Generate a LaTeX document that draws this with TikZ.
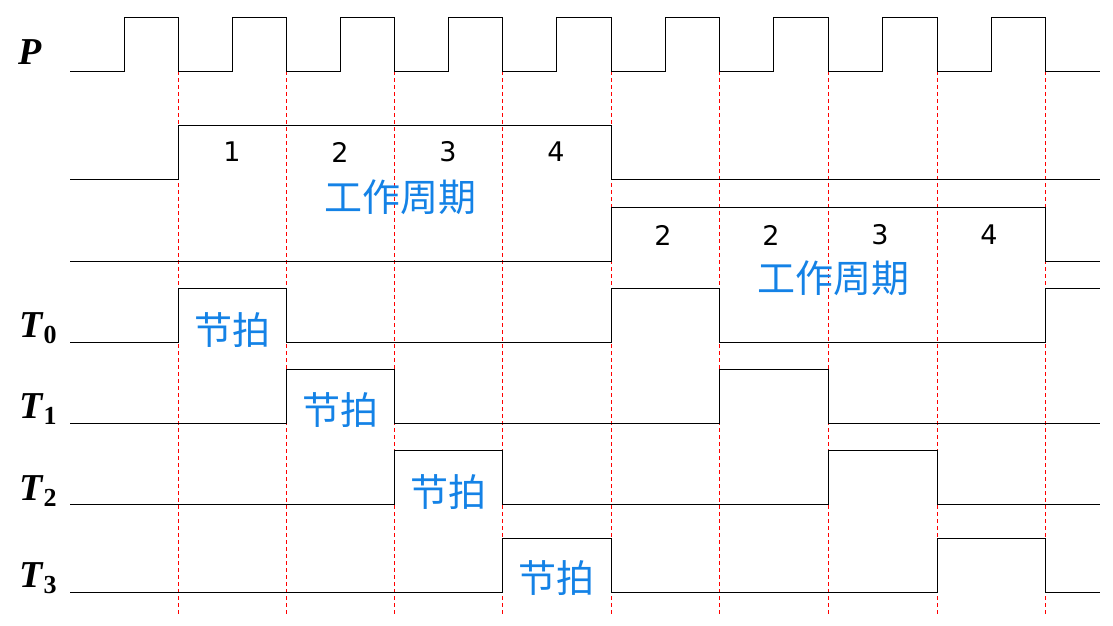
\documentclass[tikz,border=0pt]{standalone}
\usepackage{fontspec}
\setmainfont{Liberation Serif}
\newfontfamily\cjk{Noto Sans CJK SC}
\newfontfamily\numf{DejaVu Sans}
\definecolor{lblue}{RGB}{20,130,230}
\newcommand{\tsig}[1]{T\kern1pt\raisebox{-6pt}{\upshape\fontsize{26}{28}\selectfont #1}}
\begin{document}
\begin{tikzpicture}[x=1pt,y=-1pt]
\tikzset{sig/.style={line width=1pt},
 grid/.style={red,dash pattern=on 4pt off 3pt,line width=0.8pt},
 cn/.style={font=\cjk\fontsize{38}{40}\selectfont,text=lblue},
 num/.style={font=\numf\fontsize{27}{29}\selectfont},
 nm/.style={font=\bfseries\itshape\fontsize{38}{40}\selectfont}}
\useasboundingbox (0,0) rectangle (1113,625);
\foreach \x [count=\i] in {178,286,394,502,611,719,828,937,1045}
  \draw[grid] (\x,71) -- (\x,615);
% P
\draw[sig] (70,71) -- (124,71) -- (124,17) -- (178,17) -- (178,71) -- (232,71) -- (232,17) -- (286,17) -- (286,71) -- (340,71) -- (340,17) -- (394,17) -- (394,71) -- (448,71) -- (448,17) -- (502,17) -- (502,71) -- (556,71) -- (556,17) -- (611,17) -- (611,71) -- (665,71) -- (665,17) -- (719,17) -- (719,71) -- (773,71) -- (773,17) -- (828,17) -- (828,71) -- (882,71) -- (882,17) -- (937,17) -- (937,71) -- (991,71) -- (991,17) -- (1045,17) -- (1045,71) -- (1100,71);
% cycle 1
\draw[sig] (70,179) -- (178,179) -- (178,125) -- (611,125) -- (611,179) -- (1100,179);
\foreach \x/\t in {232/1,340/2,448/3,556/4} \node[num] (n1\t) at (\x,152) {\t};
\node[cn] (w1) at (400,197) {工作周期};
% cycle 2
\draw[sig] (70,261) -- (611,261) -- (611,207) -- (1045,207) -- (1045,261) -- (1100,261);
\foreach \x/\t [count=\i] in {663/2,771/2,880/3,989/4} \node[num] (n2\i) at (\x,235) {\t};
\node[cn] (w2) at (833,278) {工作周期};
% T0..T3
\draw[sig] (70,342) -- (178,342) -- (178,288) -- (286,288) -- (286,342) -- (611,342) -- (611,288) -- (719,288) -- (719,342) -- (1045,342) -- (1045,288) -- (1100,288);
\draw[sig] (70,423) -- (286,423) -- (286,369) -- (394,369) -- (394,423) -- (719,423) -- (719,369) -- (828,369) -- (828,423) -- (1100,423);
\draw[sig] (70,504) -- (394,504) -- (394,450) -- (502,450) -- (502,504) -- (828,504) -- (828,450) -- (937,450) -- (937,504) -- (1100,504);
\draw[sig] (70,592) -- (502,592) -- (502,538) -- (611,538) -- (611,592) -- (937,592) -- (937,538) -- (1045,538) -- (1045,592) -- (1100,592);
\node[cn] (b0) at (232,330) {节拍};
\node[cn] (b1) at (340,410) {节拍};
\node[cn] (b2) at (448,492) {节拍};
\node[cn] (b3) at (556,578) {节拍};
\node[nm] (lp) at (30,52) {P};
\node[nm] (l0) at (38,328) {\tsig{0}};
\node[nm] (l1) at (38,409) {\tsig{1}};
\node[nm] (l2) at (38,491) {\tsig{2}};
\node[nm] (l3) at (38,578) {\tsig{3}};
\end{tikzpicture}
\end{document}
